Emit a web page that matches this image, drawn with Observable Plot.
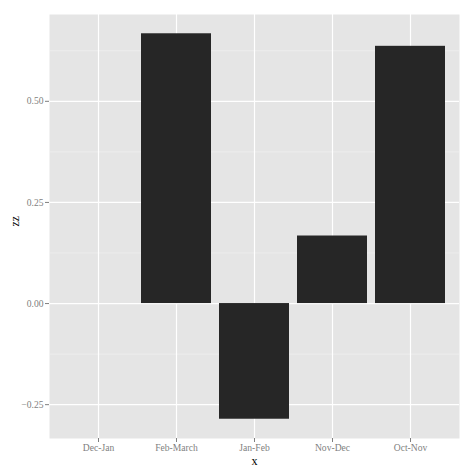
<!DOCTYPE html>
<html>
<head>
<meta charset="utf-8">
<script src="https://cdn.jsdelivr.net/npm/d3@7"></script>
<script src="https://cdn.jsdelivr.net/npm/@observablehq/plot@0.6"></script>
<style>
  html, body { margin: 0; padding: 0; background: white; }
</style>
</head>
<body>
<div id="chart"></div>
<script>
const categories = ["Dec-Jan", "Feb-March", "Jan-Feb", "Nov-Dec", "Oct-Nov"];
const values = [0, 0.667, -0.286, 0.167, 0.636];
const yTicks = [-0.25, 0, 0.25, 0.5];
const yMinorTicks = [-0.125, 0.125, 0.375, 0.625];

const data = categories.map((c, i) => ({x: c, zz: values[i]}));

const lo = d3.min(values), hi = d3.max(values);
const pad = (hi - lo) * 0.05;

const chart = Plot.plot({
  width: 474,
  height: 474,
  marginLeft: 49,
  marginRight: 15,
  marginTop: 14,
  marginBottom: 36,
  style: {background: "white", fontFamily: "Liberation Serif", fontSize: "9.6px"},
  x: {domain: categories, paddingInner: 0.1, paddingOuter: 0.15, label: null},
  y: {domain: [lo - pad, hi + pad], label: null},
  marks: [
    Plot.frame({fill: "#e5e5e5", stroke: null}),
    Plot.gridY({ticks: yMinorTicks, stroke: "#f2f2f2", strokeOpacity: 1, strokeWidth: 0.6}),
    Plot.gridY({ticks: yTicks, stroke: "white", strokeOpacity: 1, strokeWidth: 1.2}),
    Plot.gridX({stroke: "white", strokeOpacity: 1, strokeWidth: 1.2}),
    Plot.barY(data, {x: "x", y: "zz", fill: "#262626"}),
    Plot.axisY({ticks: yTicks, tickFormat: d3.format(".2f"), tickSize: 4, tickPadding: 2, color: "#7f7f7f", fontSize: 9.6, label: null}),
    Plot.axisX({tickSize: 4, tickPadding: 2, color: "#7f7f7f", fontSize: 9.6, label: null}),
    Plot.text(["x"], {frameAnchor: "bottom", dy: 26, text: d => d, fill: "black", fontSize: 12}),
    Plot.text(["zz"], {frameAnchor: "left", dx: -34, rotate: -90, text: d => d, fill: "black", fontSize: 12})
  ]
});

document.getElementById("chart").appendChild(chart);
</script>
</body>
</html>
